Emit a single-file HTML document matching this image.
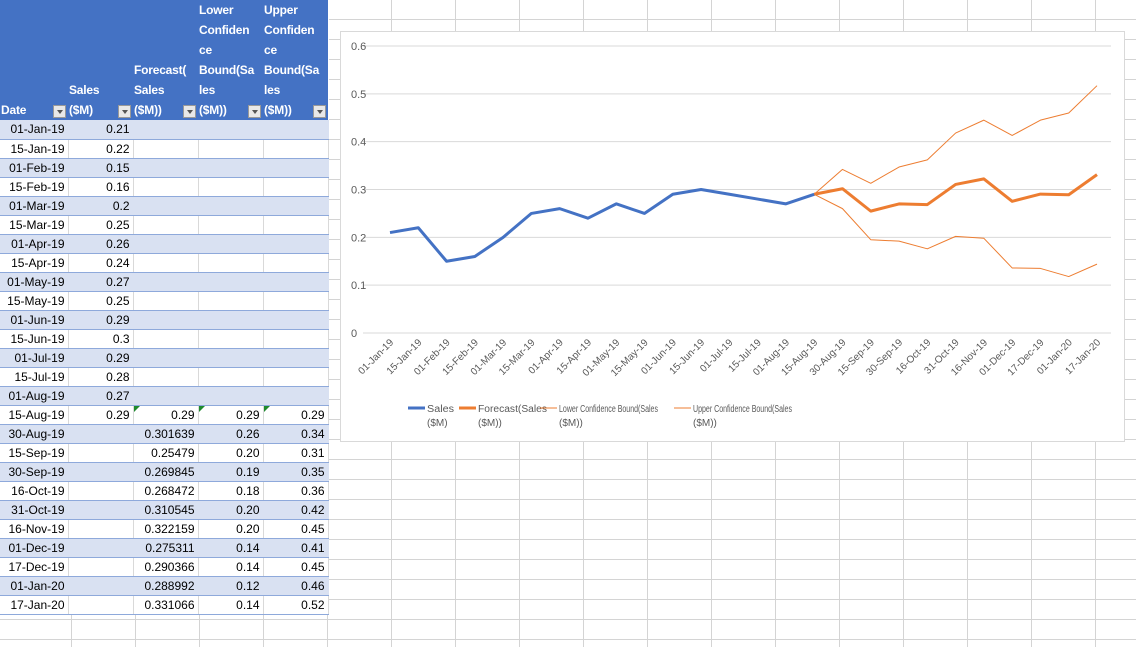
<!DOCTYPE html>
<html><head><meta charset="utf-8"><style>
body{margin:0;width:1136px;height:647px;overflow:hidden;background:#fff;font-family:"Liberation Sans",sans-serif;position:relative;
background-image:repeating-linear-gradient(to right,transparent 0,transparent 63px,#d4d4d4 63px,#d4d4d4 64px),repeating-linear-gradient(to bottom,transparent 0,transparent 19px,#d4d4d4 19px,#d4d4d4 20px);background-position:8px 0,0 0;}
table{position:absolute;left:0;top:0;border-collapse:collapse;font-size:12px;background:#fff;table-layout:fixed;width:328px}
td,th{padding:0 3px 0 0;height:19px;border-bottom:1px solid #8ea9db;border-right:1px solid #d9d9d9;text-align:right;white-space:nowrap;position:relative;overflow:hidden;box-sizing:border-box}
th{background:#4472c4;color:#fff;font-weight:bold;text-align:left;vertical-align:bottom;height:119px;border-right:none;border-bottom:none;line-height:20px;padding:0 0 0 1px;font-size:12px;letter-spacing:-0.2px}
tr.b td{background:#d9e1f2;border-right-color:#d9e1f2}
.dd{position:absolute;right:2px;bottom:2px;width:13px;height:13px;background:#e8e8e8;border:1px solid #999;box-sizing:border-box}
.dd:after{content:"";position:absolute;left:3px;top:4px;border:3px solid transparent;border-top:4px solid #555}
.tri:before{content:"";position:absolute;left:0;top:0;border-top:6px solid #1e8a2e;border-right:6px solid transparent}
#chart{position:absolute;left:340px;top:31px;width:783px;height:409px;background:#fff;border:1px solid #d9d9d9}
</style></head><body>
<table>
<colgroup><col style="width:68px"><col style="width:65px"><col style="width:65px"><col style="width:65px"><col style="width:65px"></colgroup>
<thead><tr>
<th>Date<span class="dd"></span></th>
<th>Sales<br>($M)<span class="dd"></span></th>
<th>Forecast(<br>Sales<br>($M))<span class="dd"></span></th>
<th>Lower<br>Confiden<br>ce<br>Bound(Sa<br>les<br>($M))<span class="dd"></span></th>
<th>Upper<br>Confiden<br>ce<br>Bound(Sa<br>les<br>($M))<span class="dd"></span></th>
</tr></thead>
<tbody id="tb"></tbody></table>
<div id="chart">
<svg id="svg" width="783" height="409" xmlns="http://www.w3.org/2000/svg"></svg></div>
<script>
const dates=["01-Jan-19","15-Jan-19","01-Feb-19","15-Feb-19","01-Mar-19","15-Mar-19","01-Apr-19","15-Apr-19","01-May-19","15-May-19","01-Jun-19","15-Jun-19","01-Jul-19","15-Jul-19","01-Aug-19","15-Aug-19","30-Aug-19","15-Sep-19","30-Sep-19","16-Oct-19","31-Oct-19","16-Nov-19","01-Dec-19","17-Dec-19","01-Jan-20","17-Jan-20"];
const sales=[0.21,0.22,0.15,0.16,0.2,0.25,0.26,0.24,0.27,0.25,0.29,0.3,0.29,0.28,0.27,0.29];
const forecast=[0.29,0.301639,0.25479,0.269845,0.268472,0.310545,0.322159,0.275311,0.290366,0.288992,0.331066];
const lowerTxt=["0.29","0.26","0.20","0.19","0.18","0.20","0.20","0.14","0.14","0.12","0.14"];
const upperTxt=["0.29","0.34","0.31","0.35","0.36","0.42","0.45","0.41","0.45","0.46","0.52"];
const lower=[0.29,0.26,0.195,0.192,0.176,0.202,0.198,0.136,0.135,0.118,0.144];
const upper=[0.29,0.342,0.313,0.347,0.362,0.418,0.445,0.413,0.445,0.46,0.517];
const yTicks=["0","0.1","0.2","0.3","0.4","0.5","0.6"];
const fStart=15;
const tb=document.getElementById('tb');
dates.forEach((d,i)=>{
 const tr=document.createElement('tr');
 
 
 if(i%2===0)tr.className='b';
 const fi=i-fStart;
 const vals=[d,i<sales.length?String(sales[i]):"",fi>=0?String(forecast[fi]):"",fi>=0?lowerTxt[fi]:"",fi>=0?upperTxt[fi]:""];
 vals.forEach((v,j)=>{const td=document.createElement('td');td.textContent=v;
  
  
  if(fi===0&&j>=2)td.className='tri';tr.appendChild(td);});
 tb.appendChild(tr);
});
const svg=document.getElementById('svg');const NS="http://www.w3.org/2000/svg";
const ox=340,oy=31;
const x0=389-ox,x1=1096-ox,yb=332-oy,yt=45-oy;
const Y=v=>yb-(yb-yt)*v/0.6;
function el(t,a,p){const e=document.createElementNS(NS,t);for(const k in a)e.setAttribute(k,a[k]);(p||svg).appendChild(e);return e;}
yTicks.forEach(t=>{const v=parseFloat(t);
 const g=el('line',{x1:362-ox,x2:1110-ox,y1:Y(v),y2:Y(v),stroke:'#d9d9d9','stroke-width':1});
 
 
 const tx=el('text',{x:10,y:Y(v)+4,'font-size':'11','fill':'#595959'});tx.textContent=t;
 
 
});
const Xc=i=>x0+(x1-x0)*i/(dates.length-1);
dates.forEach((c,i)=>{const t=el('text',{x:0,y:0,'font-size':'10','fill':'#595959','text-anchor':'end',transform:`translate(${Xc(i)+4},${yb+10}) rotate(-45)`});t.textContent=c;
 
 });
function line(vals,off,col,w,name){const p=el('polyline',{points:vals.map((v,i)=>Xc(i+off)+','+Y(v)).join(' '),fill:'none',stroke:col,'stroke-width':w,'stroke-linejoin':'round'});
 
 }
line(lower,fStart,'#ed7d31',1,'lower-bound-line');
line(upper,fStart,'#ed7d31',1,'upper-bound-line');
line(forecast,fStart,'#ed7d31',3,'forecast-line');
line(sales,0,'#4472c4',3,'sales-line');
const leg=[[407,'#4472c4',3,'Sales','($M)',27],[458,'#ed7d31',3,'Forecast(Sales','($M))',69],[539,'#ed7d31',1,'Lower Confidence Bound(Sales','($M))',99],[673,'#ed7d31',1,'Upper Confidence Bound(Sales','($M))',99]];
leg.forEach(l=>{const g=el('g',{});
 
 
 el('line',{x1:l[0]-ox,x2:l[0]+17-ox,y1:407-oy,y2:407-oy,stroke:l[1],'stroke-width':l[2]},g);
 const t=el('text',{x:l[0]+19-ox,y:411-oy,'font-size':'10','fill':'#595959',textLength:l[5],lengthAdjust:'spacingAndGlyphs'},g);t.textContent=l[3];
 const t2=el('text',{x:l[0]+19-ox,y:425-oy,'font-size':'10','fill':'#595959'},g);t2.textContent=l[4];});
</script>
</body></html>
